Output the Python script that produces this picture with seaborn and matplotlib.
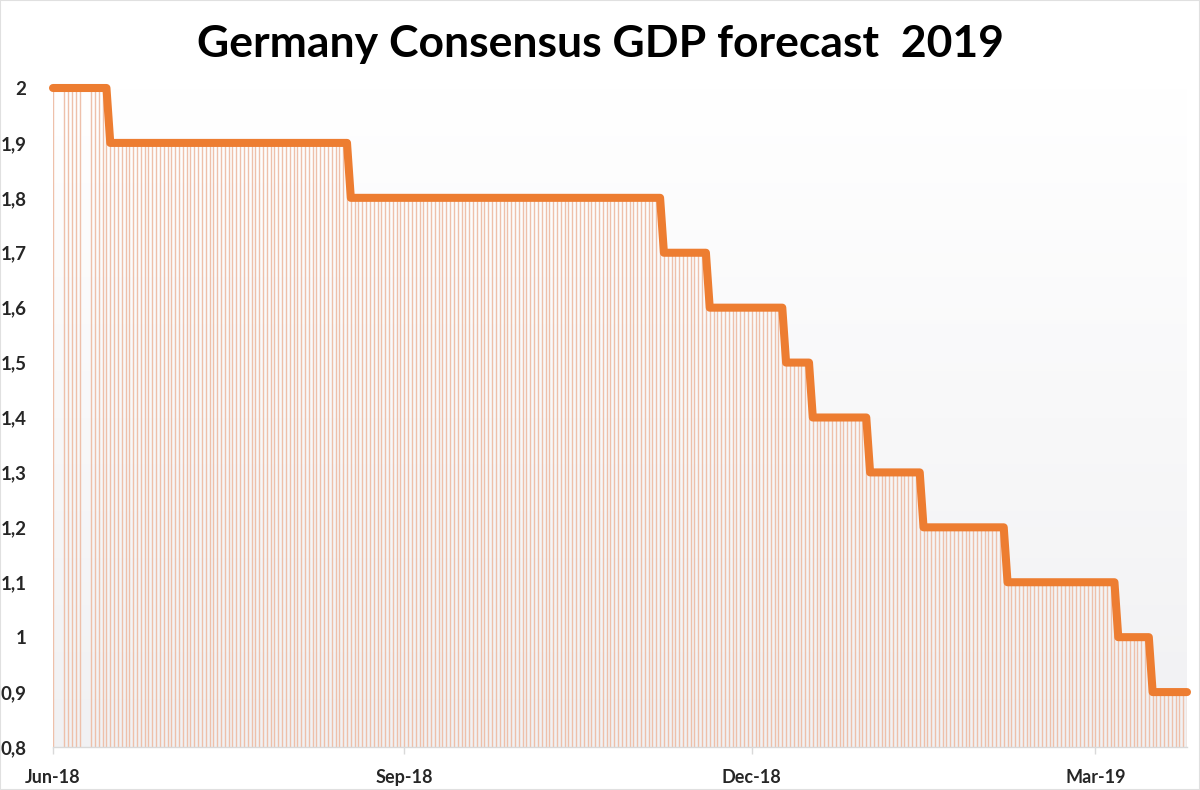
import numpy as np
import pandas as pd
import matplotlib
matplotlib.use('Agg')
import matplotlib.pyplot as plt
import matplotlib.dates as mdates
from matplotlib.ticker import FixedLocator, FuncFormatter
import seaborn as sns

# Consensus forecast: first day of each new value
change_dates = ['2018-06-01', '2018-06-16', '2018-08-18', '2018-11-08', '2018-11-20', '2018-12-10',
                '2018-12-17', '2019-01-01', '2019-01-15', '2019-02-06', '2019-03-07', '2019-03-16']
forecast = [2.0, 1.9, 1.8, 1.7, 1.6, 1.5, 1.4, 1.3, 1.2, 1.1, 1.0, 0.9]
last_date = '2019-03-25'
missing_dates = ['2018-06-02', '2018-06-03', '2018-06-09', '2018-06-10']

x_ticks = ['2018-06-01', '2018-09-01', '2018-12-01', '2019-03-01']
x_tick_labels = ['Jun-18', 'Sep-18', 'Dec-18', 'Mar-19']
y_ticks = [0.8, 0.9, 1.0, 1.1, 1.2, 1.3, 1.4, 1.5, 1.6, 1.7, 1.8, 1.9, 2.0]

# daily series, value carried forward until the next revision
days = pd.date_range(change_dates[0], last_date, freq='D')
daily = pd.Series(forecast, index=pd.to_datetime(change_dates)).reindex(days).ffill()
daily = daily.drop(pd.to_datetime(missing_dates))
df = pd.DataFrame({'date': daily.index, 'gdp': daily.values})

sns.set_theme(style='white')
plt.rcParams['font.family'] = ['Lato', 'DejaVu Sans']

orange = '#ED7D31'
fig = plt.figure(figsize=(12, 7.9), dpi=100)
ax = fig.add_axes([53 / 1200, 1 - 747 / 790, (1187 - 53) / 1200, (747 - 88) / 790])

# soft grey gradient behind the plot
grad = np.linspace(0, 1, 256).reshape(-1, 1)
ax.imshow(grad, extent=[0, 1, 0, 1], transform=ax.transAxes, aspect='auto',
          cmap=matplotlib.colors.LinearSegmentedColormap.from_list('bg', ['#f1f1f3', '#ffffff']),
          origin='lower', zorder=0)

ax.vlines(df['date'], 0.8, df['gdp'], color='#EEC0AA', linewidth=1.0, zorder=1)
sns.lineplot(data=df, x='date', y='gdp', ax=ax, color=orange, linewidth=5.8, zorder=3)
for ln in ax.lines:
    ln.set_clip_on(False)
    ln.set_solid_capstyle('round')
    ln.set_solid_joinstyle('round')

ax.set_xlim(pd.Timestamp(change_dates[0]), pd.Timestamp(last_date))
ax.set_ylim(0.8, 2.0)
ax.set_xlabel('')
ax.set_ylabel('')

ax.xaxis.set_major_locator(FixedLocator(mdates.date2num(pd.to_datetime(x_ticks))))
ax.set_xticklabels(x_tick_labels, fontsize=13, fontweight='bold')
ax.yaxis.set_major_locator(FixedLocator(y_ticks))
ax.yaxis.set_major_formatter(FuncFormatter(lambda v, p: f'{v:g}'.replace('.', ',')))
for t in ax.get_yticklabels():
    t.set_fontsize(13.5)
    t.set_fontweight('bold')

ax.tick_params(axis='x', bottom=True, length=5, width=1, color='#d9d9d9', pad=11)
ax.tick_params(axis='y', left=False, pad=13)
for side in ['top', 'right', 'left']:
    ax.spines[side].set_visible(False)
ax.spines['bottom'].set_color('#d9d9d9')
ax.spines['bottom'].set_linewidth(1)

fig.text(0.5, 1 - 57 / 790, 'Germany Consensus GDP forecast  2019', ha='center', va='baseline',
         fontsize=32, fontweight='bold', color='black')

fig.patches.append(plt.Rectangle((0, 0), 1, 1, transform=fig.transFigure, fill=False,
                                 edgecolor='#e0e0e0', linewidth=1.5))

fig.savefig('out.png', dpi=100)
